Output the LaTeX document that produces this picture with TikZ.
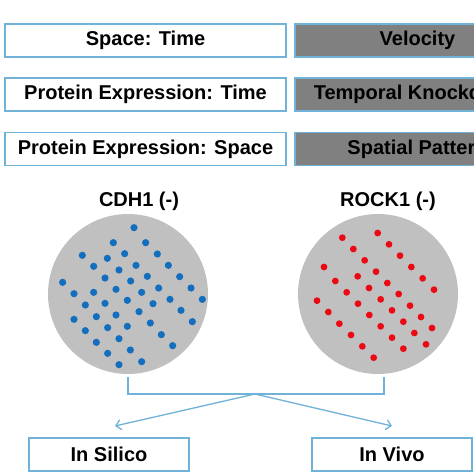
\documentclass[tikz,border=0pt]{standalone}
\usepackage{fontspec}
\setmainfont{Liberation Sans}
\usetikzlibrary{arrows.meta}
\definecolor{lb}{RGB}{112,178,216}
\definecolor{boxgray}{RGB}{128,128,128}
\definecolor{discgray}{RGB}{192,192,192}
\definecolor{dotblue}{RGB}{20,110,190}
\definecolor{dotred}{RGB}{235,10,20}
\tikzset{
  lbl/.style={font=\fontsize{20}{24}\selectfont\bfseries, inner sep=0pt},
  wbox/.style={lbl, draw=lb, line width=1.4pt, fill=white, minimum height=33pt},
  gbox/.style={lbl, draw=lb, line width=1.4pt, fill=boxgray, minimum height=33pt, text=black},
  disc/.style={circle, fill=discgray, minimum size=160pt, inner sep=0pt},
  conn/.style={draw=lb, line width=1.3pt},
}
\begin{document}
\begin{tikzpicture}[x=1pt,y=-1pt]
\useasboundingbox (0,0) rectangle (474,474);
\clip (0,0) rectangle (474,474);
\fill[white] (0,0) rectangle (474,474);
% top rows
\node[wbox, minimum width=281pt] (l1) at (145.5,40.5) {Space: Time};
\node[wbox, minimum width=281pt] (l2) at (145.5,94.5) {Protein Expression: Time};
\node[wbox, minimum width=281pt] (l3) at (145.5,149) {Protein Expression: Space};
\node[gbox, minimum width=245pt] (r1) at (417.5,40.5) {Velocity};
\node[gbox, minimum width=245pt] (r2) at (417.5,94.5) {Temporal Knockdown};
\node[gbox, minimum width=245pt] (r3) at (417.5,149) {Spatial Pattern};
% labels
\node[lbl] (t1) at (139,201) {CDH1 (-)};
\node[lbl] (t2) at (388,201) {ROCK1 (-)};
% discs
\node[disc] (c1) at (128,294) {};
\node[disc] (c2) at (378,294) {};
\foreach \a/\b in {267/47,205/92,302/92,112/130,187/139,239/125,337/126,146/163,222/174,273/160,370/160,180/198,257/207,307/193,404/194,53/211,213/232,290/241,341/228,438/228,87/245,146/241,247/265,375/262,472/262,121/279,180/274,324/275,213/309,282/299,408/295,87/322,154/314,316/333,442/329,188/347,247/343,121/356,349/368,222/380,154/391,383/401,256/414,188/424,290/449,222/458}
  \fill[dotblue] ({45+\a/3},{212+\b/3}) circle (3.6pt);
\foreach \a/\b in {142/77,248/63,175/111,282/97,209/145,315/131,87/165,349/165,243/179,188/193,121/207,277/213,383/199,222/228,155/241,417/233,311/246,257/262,66/266,189/275,345/281,100/300,291/295,223/309,378/315,133/335,325/329,257/343,411/348,358/363,168/369,291/377,202/403,325/410,393/397,236/437}
  \fill[dotred] ({295+\a/3},{212+\b/3}) circle (3.4pt);
% bottom boxes
\node[wbox, minimum width=160pt] (s) at (109,454.5) {In Silico};
\node[wbox, minimum width=160pt] (v) at (392,454.5) {In Vivo};
% connectors
\coordinate (b1) at (128,377);
\coordinate (b2) at (128,394);
\coordinate (b3) at (384,394);
\coordinate (b4) at (384,377);
\coordinate (m) at (255,394);
\coordinate (a1) at (115,426);
\coordinate (a2) at (392,426);
\draw[conn] (b1) -- (b2) -- (b3) -- (b4);
\draw[conn, -{Straight Barb[length=5pt,width=10pt]}] (m) -- (a1);
\draw[conn, -{Straight Barb[length=5pt,width=10pt]}] (m) -- (a2);
\end{tikzpicture}
\end{document}
